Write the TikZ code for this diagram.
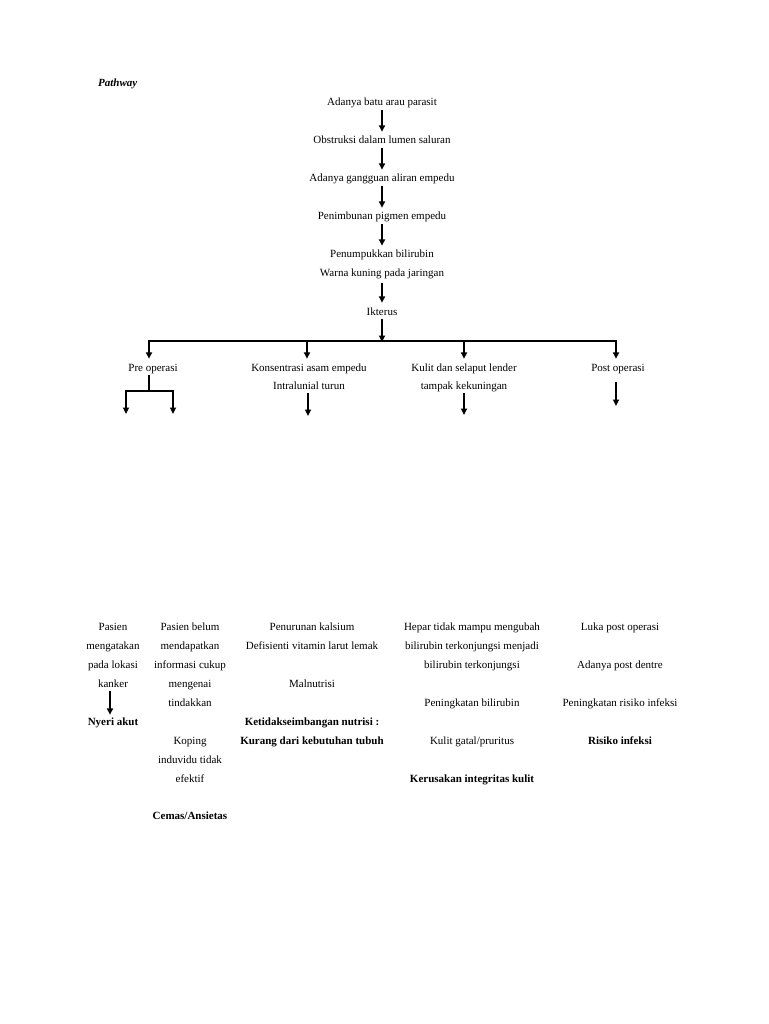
\documentclass[tikz,border=0pt]{standalone}
\usepackage{fontspec}
\setmainfont{Liberation Serif}
\usetikzlibrary{arrows.meta}
\begin{document}
\begin{tikzpicture}[x=1pt,y=-1pt,
  txt/.style={inner sep=0pt,text height=9pt,text depth=1pt,minimum height=16pt,font=\fontsize{11}{13}\selectfont,align=center},
  bold/.style={txt,font=\fontsize{11}{13}\selectfont\bfseries},
  arr/.style={line width=1.6pt,-{Triangle[width=6pt,length=6.5pt]}},
  ln/.style={line width=1.6pt}]
\fill[white] (0,0) rectangle (768,1024);
\useasboundingbox (0,0) rectangle (768,1024);
\node[txt,font=\fontsize{11}{13}\selectfont\bfseries\itshape,anchor=west] (pw) at (98,83) {Pathway};
% main chain
\node[txt] (a1) at (382,102) {Adanya batu arau parasit};
\node[txt] (a2) at (382,140) {Obstruksi dalam lumen saluran};
\node[txt] (a3) at (382,178) {Adanya gangguan aliran empedu};
\node[txt] (a4) at (382,216) {Penimbunan pigmen empedu};
\node[txt] (a5) at (382,254) {Penumpukkan bilirubin};
\node[txt] (a6) at (382,272) {Warna kuning pada jaringan};
\node[txt] (a7) at (382,311) {Ikterus};
\draw[arr] (a1) -- (a2);
\draw[arr] (a2) -- (a3);
\draw[arr] (a3) -- (a4);
\draw[arr] (a4) -- (a5);
\draw[arr] ([yshift=-3pt]a6.south) -- (a7);
% bar
\coordinate (bm) at (382,341);
\coordinate (bl) at (149,341);
\coordinate (b2) at (307,341);
\coordinate (b3) at (464,341);
\coordinate (br) at (616,341);
\draw[arr] (a7) -- ([yshift=-1pt]bm);
\draw[ln] ([xshift=-0.8pt]bl) -- ([xshift=0.8pt]br);
\node[txt] (p1) at (153,367) {Pre operasi};
\node[txt] (p2) at (309,367) {Konsentrasi asam empedu};
\node[txt] (p2b) at (309,385) {Intralunial turun};
\node[txt] (p3) at (464,367) {Kulit dan selaput lender};
\node[txt] (p3b) at (464,385) {tampak kekuningan};
\node[txt] (p4) at (618,367) {Post operasi};
\draw[arr] (bl) -- (bl|-p1.north);
\draw[arr] (b2) -- (b2|-p2.north);
\draw[arr] (b3) -- (b3|-p3.north);
\draw[arr] (br) -- (br|-p4.north);
% pre operasi fork
\coordinate (f0) at (149,391);
\coordinate (fl) at (126,391);
\coordinate (fr) at (173,391);
\coordinate (el) at (126,414);
\coordinate (er) at (173,414);
\draw[ln] (f0|-p1.south) -- (f0);
\draw[ln] ([xshift=-0.8pt]fl) -- ([xshift=0.8pt]fr);
\draw[arr] (fl) -- (el);
\draw[arr] (fr) -- (er);
% other short arrows
\coordinate (e2) at (308,416);
\coordinate (e3) at (464,415);
\coordinate (e4) at (616,406);
\draw[arr] (e2|-p2b.south) -- (e2);
\draw[arr] (e3|-p3b.south) -- (e3);
\draw[arr] ([yshift=-7pt]p4.south-|e4) -- (e4);
% column 1
\node[txt] (c1a) at (113,626) {Pasien};
\node[txt] (c1b) at (113,645) {mengatakan};
\node[txt] (c1c) at (113,664) {pada lokasi};
\node[txt] (c1d) at (113,683) {kanker};
\node[bold] (c1e) at (113,721) {Nyeri akut};
\draw[arr] ([xshift=-3pt]c1d.south) -- ([xshift=-3pt,yshift=-2pt]c1e.north);
% column 2
\node[txt] (c2a) at (190,626) {Pasien belum};
\node[txt] (c2b) at (190,645) {mendapatkan};
\node[txt] (c2c) at (190,664) {informasi cukup};
\node[txt] (c2d) at (190,683) {mengenai};
\node[txt] (c2e) at (190,702) {tindakkan};
\node[txt] (c2f) at (190,740) {Koping};
\node[txt] (c2g) at (190,759) {induvidu tidak};
\node[txt] (c2h) at (190,778) {efektif};
\node[bold] (c2i) at (190,815) {Cemas/Ansietas};
% column 3
\node[txt] (c3a) at (312,626) {Penurunan kalsium};
\node[txt] (c3b) at (312,645) {Defisienti vitamin larut lemak};
\node[txt] (c3c) at (312,683) {Malnutrisi};
\node[bold] (c3d) at (312,721) {Ketidakseimbangan nutrisi :};
\node[bold] (c3e) at (312,740) {Kurang dari kebutuhan tubuh};
% column 4
\node[txt] (c4a) at (472,626) {Hepar tidak mampu mengubah};
\node[txt] (c4b) at (472,645) {bilirubin terkonjungsi menjadi};
\node[txt] (c4c) at (472,664) {bilirubin terkonjungsi};
\node[txt] (c4d) at (472,702) {Peningkatan bilirubin};
\node[txt] (c4e) at (472,740) {Kulit gatal/pruritus};
\node[bold] (c4f) at (472,778) {Kerusakan integritas kulit};
% column 5
\node[txt] (c5a) at (620,626) {Luka post operasi};
\node[txt] (c5b) at (620,664) {Adanya post dentre};
\node[txt] (c5c) at (620,702) {Peningkatan risiko infeksi};
\node[bold] (c5d) at (620,740) {Risiko infeksi};
\end{tikzpicture}
\end{document}
